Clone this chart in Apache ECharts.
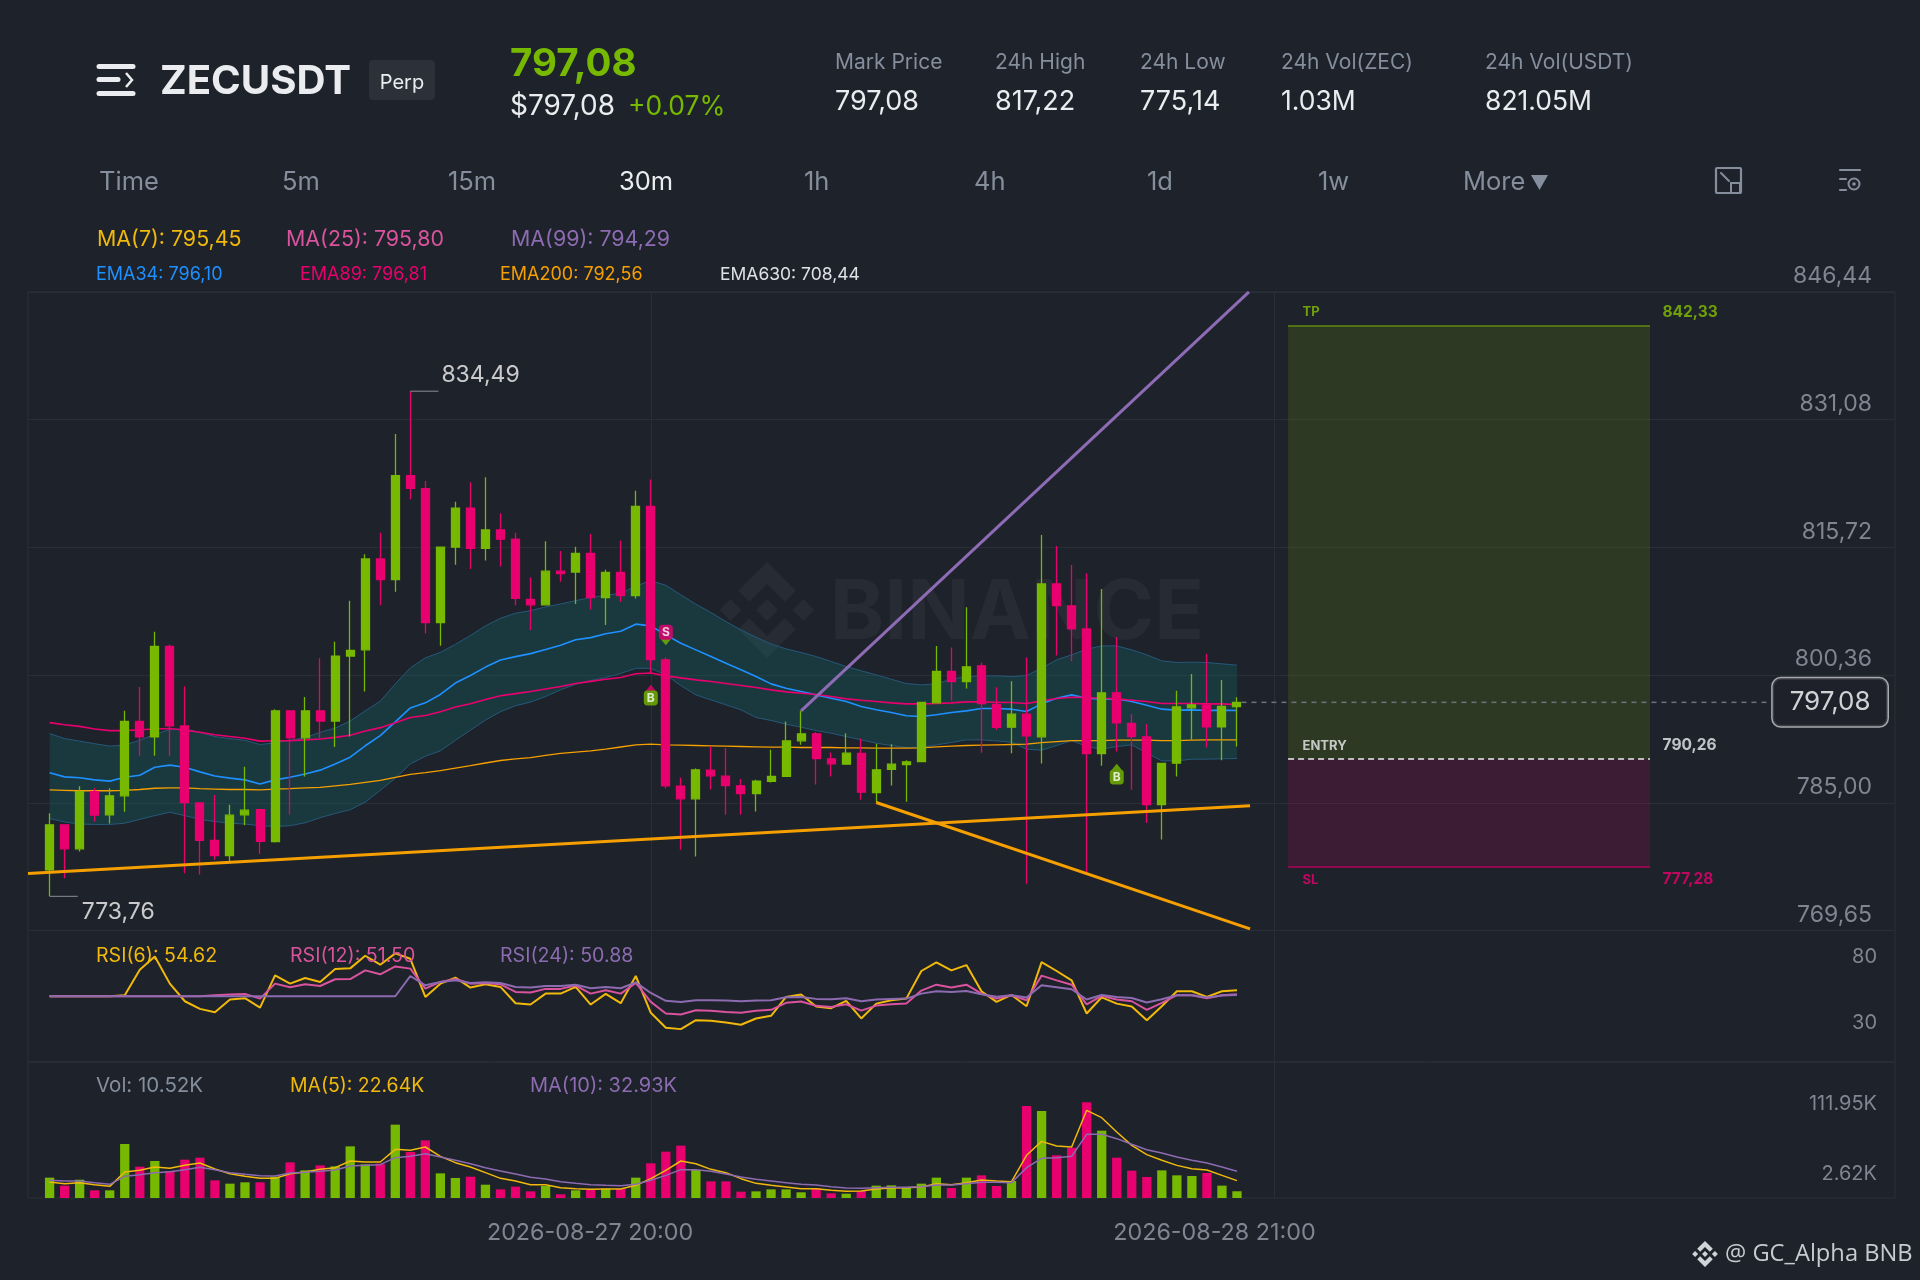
<!DOCTYPE html>
<html><head><meta charset="utf-8">
<style>html,body{margin:0;padding:0;background:#1e222a}#c{width:1920px;height:1280px}</style>
<script src="https://cdn.jsdelivr.net/npm/echarts@6/dist/echarts.min.js"></script>
</head><body><div id="c"></div>
<script>
const open_=[776.93,782.35,779.47,786.34,783.56,785.84,794.79,792.92,803.80,794.24,784.98,780.48,778.66,783.56,784.17,780.33,796.06,792.82,796.06,794.84,802.64,803.39,814.32,811.84,824.34,822.77,806.68,815.74,820.44,815.59,817.81,816.70,809.46,808.81,812.85,812.75,814.98,809.67,812.70,809.92,820.64,802.19,787.00,785.48,788.93,788.21,787.04,786.12,787.57,788.17,792.45,793.29,790.29,789.65,790.93,786.24,789.01,789.61,789.97,797.02,800.79,799.58,801.47,796.82,794.09,795.66,792.93,811.32,808.68,805.91,790.93,798.22,794.54,792.93,784.80,789.77,796.42,796.78,794.13,796.58];
const close_=[782.35,779.47,786.34,783.51,785.84,794.79,792.92,803.80,794.24,785.03,780.48,778.66,783.51,784.12,780.38,796.06,792.82,796.06,794.84,802.64,803.34,814.32,811.84,824.34,822.82,806.68,815.74,820.44,815.59,817.81,816.70,809.57,808.81,812.85,812.55,814.98,809.67,812.70,809.92,820.64,802.23,787.04,785.48,788.97,788.25,787.08,786.12,787.61,788.17,792.45,793.29,790.33,789.69,790.97,786.28,788.97,789.65,789.93,797.06,800.79,799.58,801.35,796.94,794.06,795.66,793.05,811.32,808.72,805.91,790.93,798.22,794.62,792.97,784.80,789.73,796.54,796.78,794.13,796.58,797.08];
const low_=[773.76,775.92,779.16,782.75,782.50,783.92,790.65,790.65,790.65,776.53,776.38,778.15,777.90,782.30,778.86,780.23,783.61,788.17,792.72,791.71,792.97,798.39,808.76,810.38,821.50,805.37,803.90,813.61,813.11,814.12,813.41,808.76,805.77,808.81,811.59,808.91,808.25,806.38,809.16,809.57,800.61,786.72,779.35,778.55,786.60,783.56,783.56,783.96,787.44,788.17,791.97,787.20,788.17,789.65,785.36,785.04,787.08,785.12,789.97,797.02,797.30,798.74,791.01,793.77,790.97,775.27,789.73,802.71,802.03,776.55,789.45,791.17,786.56,782.56,780.59,788.17,792.57,791.65,790.13,791.77];
const high_=[783.76,782.35,787.00,786.75,786.75,796.06,798.94,805.57,804.05,798.99,784.98,785.94,784.78,789.33,784.22,796.26,796.06,797.73,802.38,804.36,809.31,814.88,817.46,829.35,834.49,823.68,815.74,821.20,823.53,824.13,819.83,817.46,812.09,816.45,815.28,815.79,817.31,813.01,816.55,822.52,823.88,802.51,788.04,789.13,791.77,791.57,787.85,787.77,791.37,794.78,796.06,793.53,791.05,793.37,792.73,792.09,792.05,790.13,797.06,803.87,803.67,808.52,801.87,798.90,799.62,802.47,817.21,815.89,813.60,812.60,810.72,804.95,795.66,794.49,789.73,798.46,800.50,802.91,799.78,797.70];
const ema34=[788.62,788.12,788.02,787.76,787.61,788.07,788.32,789.28,789.53,789.28,788.72,788.22,787.97,787.76,787.26,787.76,788.07,788.47,788.93,789.68,790.49,791.86,793.07,794.74,796.41,797.02,798.03,799.40,800.31,801.32,802.18,802.58,802.94,803.44,803.95,804.61,804.86,805.32,805.62,806.48,806.28,805.19,804.19,803.39,802.59,801.79,800.99,800.18,799.30,798.78,798.38,797.98,797.58,797.18,796.58,796.18,795.86,795.46,795.38,795.58,795.86,796.06,796.34,796.34,796.26,795.98,796.90,797.58,797.98,797.58,797.46,797.50,797.18,796.74,796.26,796.14,796.18,796.10,796.14,796.10];
const ema89=[794.64,794.39,794.19,793.88,793.68,793.68,793.78,793.88,793.93,793.73,793.48,793.18,792.97,792.77,792.42,792.47,792.47,792.57,792.67,792.87,793.12,793.63,794.04,794.64,795.25,795.50,795.96,796.51,796.92,797.42,797.88,798.13,798.39,798.69,798.99,799.35,799.60,799.85,800.06,800.51,800.61,800.26,800.02,799.78,799.58,799.34,799.10,798.86,798.58,798.34,798.18,798.02,797.78,797.50,797.34,797.18,797.02,796.90,796.90,796.94,797.02,797.14,797.14,797.10,797.06,796.94,797.26,797.54,797.70,797.66,797.58,797.50,797.34,797.18,796.94,796.94,796.94,796.90,796.90,796.81];
const ema200=[786.55,786.50,786.45,786.45,786.45,786.50,786.60,786.75,786.80,786.80,786.70,786.65,786.60,786.60,786.55,786.65,786.70,786.80,786.85,787.05,787.21,787.46,787.71,788.07,788.42,788.62,788.88,789.18,789.48,789.79,790.09,790.29,790.44,790.70,790.95,791.10,791.25,791.46,791.71,791.96,792.05,791.97,791.93,791.89,791.85,791.81,791.77,791.73,791.69,791.69,791.65,791.65,791.65,791.61,791.61,791.57,791.57,791.57,791.61,791.73,791.81,791.89,791.93,791.97,792.01,792.05,792.25,792.37,792.49,792.49,792.49,792.53,792.53,792.53,792.49,792.49,792.53,792.57,792.57,792.56];
const bandUpper=[793.33,792.72,792.42,792.11,791.81,791.96,792.52,793.23,793.83,793.88,793.48,792.97,792.72,792.52,792.01,792.21,792.52,792.82,793.48,793.99,794.84,796.06,797.22,799.30,801.22,802.43,803.09,804.05,805.11,806.28,807.19,807.80,808.10,808.55,808.91,809.31,809.67,809.97,810.17,811.08,811.69,811.16,810.00,808.88,807.88,806.79,805.79,804.91,804.11,803.51,803.07,802.59,801.99,801.39,800.87,800.38,799.86,799.34,799.18,799.30,799.86,800.18,800.26,800.26,800.18,800.30,801.19,802.19,802.79,803.47,803.87,803.87,803.39,802.79,802.07,801.87,801.91,801.87,801.71,801.55];
const bandLower=[783.11,782.70,782.45,782.40,782.40,782.55,783.01,783.46,783.87,783.46,783.01,782.75,782.55,782.45,782.25,782.15,782.25,782.60,783.21,783.72,784.17,785.08,786.50,787.96,789.68,790.60,791.25,792.52,793.73,794.95,795.96,796.67,797.12,797.78,798.59,799.25,799.70,800.06,800.56,801.17,801.17,800.38,799.10,797.98,797.38,796.78,796.18,795.26,794.90,794.46,794.09,793.69,793.37,792.97,792.57,792.17,791.89,791.65,791.69,791.97,792.25,792.57,792.57,792.45,792.29,791.45,791.33,791.89,792.49,791.77,791.45,791.77,791.97,790.97,790.05,790.05,790.25,790.25,790.29,790.33];
const rsi6=[50,50,50,50,50,50.8,70.2,80.3,59.6,46.2,40.4,37.9,47.5,48.5,41.4,65.9,59.6,63.9,60.9,70.7,71.2,80.8,74.0,82.6,78.5,49.5,59.6,64.1,56.6,59.1,57.1,44.7,43.7,52.0,52.0,57.1,43.7,51.8,44.7,65.4,37.4,26.0,25.0,31.8,31.3,30.1,28.3,33.1,35.1,49.5,51.3,42.2,40.9,46.5,33.1,44.4,47.0,48.2,69.2,75.8,69.7,73.7,53.8,45.7,51.0,42.4,76.0,69.2,62.1,36.9,49.2,44.4,42.2,31.8,42.4,53.8,53.8,49.5,53.8,54.62];
const rsi12=[50,50,50,50,50,50,50,50,50,50,50,50.8,51.3,51.8,48.2,59.6,56.8,59.1,57.8,62.9,63.1,69.7,66.7,72.7,71.0,55.8,60.9,63.1,59.6,60.1,59.1,53.3,52.8,55.6,55.6,58.1,52.0,54.6,52.0,60.1,45.7,36.9,36.1,39.4,38.9,38.1,37.4,38.9,39.7,45.0,46.0,42.7,41.9,43.9,39.1,42.9,43.9,44.4,54.3,58.8,56.6,58.8,52.0,48.2,50.8,47.0,65.7,62.1,58.8,43.9,50.3,47.5,46.2,39.7,45.0,50.8,50.8,48.5,50.8,51.50];
const rsi24=[50,50,50,50,50,50,50,50,50,50,50,50,50,50,50,50,50,50,50,50,50,50,50,50,65.4,58.3,60.9,62.1,60.1,60.6,60.1,57.1,56.6,57.8,57.8,58.8,56.1,57.1,56.1,60.6,52.5,46.5,45.7,47.0,47.0,46.7,46.2,46.7,47.0,49.2,49.5,48.0,47.7,48.5,46.2,47.5,48.0,48.2,52.0,53.8,53.3,54.0,51.5,49.7,50.8,49.0,58.3,56.8,55.3,47.5,51.0,49.5,48.7,45.2,47.7,50.8,50.8,49.0,50.5,50.88];
const volume=[31.8,19.3,28.6,12.0,12.0,84.4,49.0,57.8,42.2,59.9,63.0,27.6,22.4,24.5,24.5,33.3,55.7,43.2,51.0,49.5,80.7,52.6,53.6,114.6,71.9,90.1,38.5,31.3,33.3,20.8,13.5,17.7,10.4,18.8,5.7,12.0,12.5,14.6,14.6,31.8,54.2,72.4,81.8,43.8,26.0,26.0,9.9,10.4,13.5,13.5,8.9,14.6,7.3,6.8,10.9,19.3,19.8,16.1,22.4,31.8,15.6,31.8,35.4,18.8,26.6,143.8,135.9,66.7,78.6,149.5,105.2,63.0,42.7,32.8,43.2,35.4,34.4,39.1,19.3,10.52];
const volMa5=[25.0,22.4,24.0,20.8,18.2,40.6,43.2,48.4,46.4,51.0,54.7,45.3,38.0,33.9,30.7,30.7,38.0,40.6,44.8,47.4,57.8,56.3,56.3,76.0,74.5,79.7,65.1,55.2,48.4,39.6,30.7,26.6,20.8,20.8,16.1,14.6,13.5,14.1,14.1,19.8,30.2,43.2,57.8,53.6,44.8,39.6,30.2,22.9,19.8,17.2,14.6,14.6,12.0,10.4,10.9,14.1,15.6,16.1,17.2,22.4,20.8,24.0,28.1,26.6,25.5,66.7,88.5,81.3,79.7,137.0,125.5,103.1,82.3,67.7,58.9,51.0,45.8,43.8,35.4,27.1];
const volMa10=[27.6,26.6,26.6,24.0,21.4,33.9,36.5,39.6,41.1,44.3,47.9,44.3,39.6,37.0,34.9,34.4,39.1,40.1,41.7,43.8,50.0,51.0,52.1,63.0,65.1,69.3,64.1,58.9,53.6,47.4,42.2,37.5,32.3,29.7,25.5,22.9,20.8,19.8,19.3,21.4,27.6,35.4,44.3,44.3,41.7,37.5,32.8,29.2,26.6,24.0,21.4,20.3,17.7,15.6,15.1,16.1,16.7,16.7,17.7,20.3,20.3,22.4,24.5,24.5,24.0,47.4,62.0,63.0,65.1,99.5,99.5,92.7,83.9,75.5,70.3,64.1,58.9,54.7,48.4,41.7];

const priceTicks=[846.44,831.08,815.72,800.36,785.00,769.65];
const rsiTicks=[80,30];
const volTicks=[2.62,111.95];
const timeLabels=['2026-08-27 20:00','2026-08-28 21:00'];
const timeLabelAt=[35.96,77.5];
const timeLineAt=[40,81.45];
const xRange=[-1.437,122.78];
const tp=842.33, entry=790.26, sl=777.28, last=797.08, boxX=[82.4,106.48];
const hiIdx=24, hiVal=834.49, loIdx=0, loVal=773.76;
const trendUp=[[-1.437,776.5],[79.87,784.64]];
const trendDown=[[55,785.04],[79.87,769.85]];
const trendPurple=[[50,796.06],[79.8,846.44]];
const signals=[{i:40,v:797.6,t:'B',c:'#76b900',tip:'#e8006f',tipV:798.85,rot:0},{i:41,v:805.5,t:'S',c:'#e8006f',tip:'#76b900',tipV:804.3,rot:180},{i:71,v:788.1,t:'B',c:'#76b900',tip:'#76b900',tipV:789.35,rot:0}];

const headerTexts=[
 ['ZECUSDT',160,82,'700 40.2px','#eaecef'],['Perp',402,83,'400 20px','#eaecef','center'],
 ['797,08',510,64,'700 38.5px','#76b900'],['$797,08',510,107,'400 28px','#eaecef'],['+0.07%',628,107,'400 26.4px','#76b900'],
 ['Mark Price',835,63,'400 21px','#848e9c'],['797,08',835,102,'400 27px','#eaecef'],
 ['24h High',995,63,'400 21px','#848e9c'],['817,22',995,102,'400 27px','#eaecef'],
 ['24h Low',1140,63,'400 21px','#848e9c'],['775,14',1140,102,'400 27px','#eaecef'],
 ['24h Vol(ZEC)',1281,63,'400 21px','#848e9c'],['1.03M',1281,102,'400 26.5px','#eaecef'],
 ['24h Vol(USDT)',1485,63,'400 21px','#848e9c'],['821.05M',1485,102,'400 26.5px','#eaecef'],
 ['Time',99,182,'400 25.5px','#848e9c'],['5m',282,182,'400 25.5px','#848e9c'],['15m',448,182,'400 25.5px','#848e9c'],['30m',619,182,'400 25.5px','#eaecef'],
 ['1h',804,182,'400 25.5px','#848e9c'],['4h',974,182,'400 25.5px','#848e9c'],['1d',1147,182,'400 25.5px','#848e9c'],['1w',1318,182,'400 25.5px','#848e9c'],['More',1463,182,'400 25.5px','#848e9c'],
 ['MA(7): 795,45',97,240,'400 21.4px','#f0b90b'],['MA(25): 795,80',286,240,'400 21.4px','#d9539e'],['MA(99): 794,29',511,240,'400 21.4px','#8c6bb1'],
 ['EMA34: 796,10',96,275,'400 18px','#1e90ff'],['EMA89: 796,81',300,275,'400 18px','#e8006f'],['EMA200: 792,56',500,275,'400 18px','#f59f00'],['EMA630: 708,44',720,275,'400 17.5px','#dfe1e5'],
 ['RSI(6): 54.62',96,956,'400 19.6px','#f0b90b'],['RSI(12): 51.50',290,956,'400 19.6px','#d9539e'],['RSI(24): 50.88',500,956,'400 19.6px','#8c6bb1'],
 ['Vol: 10.52K',96,1086,'400 20.5px','#848e9c'],['MA(5): 22.64K',290,1086,'400 19.4px','#f0b90b'],['MA(10): 32.93K',530,1086,'400 20px','#8c6bb1']
];

const FONT='Inter, "Noto Sans", sans-serif';
const GREEN='#76b900',PINK='#e8006f',GRID='#2a2e37',GREY='#7f8692',LIME='#84c000';
const fmt=v=>v.toFixed(2).replace('.',',');
const idx=a=>a.map((v,i)=>[i,v]);

function logo(cx,cy,s,color,z){
 const P=(pts)=>({type:'polygon',silent:true,z:z,shape:{points:pts.map(p=>[cx+p[0]*s,cy+p[1]*s])},style:{fill:color}});
 const d=(x,y,r)=>P([[x,y-r],[x+r,y],[x,y+r],[x-r,y]]);
 return [P([[0,-1],[.6,-.4],[.37,-.17],[0,-.54],[-.37,-.17],[-.6,-.4]]),
  P([[0,1],[.6,.4],[.37,.17],[0,.54],[-.37,.17],[-.6,.4]]),d(0,0,.23),d(-.76,0,.23),d(.76,0,.23)];
}
const rect=(x,y,w,h,fill,r)=>({type:'rect',silent:true,shape:{x,y,width:w,height:h,r:r||0},style:{fill}});
const strokeRect=(x,y,w,h,stroke,lw,r)=>({type:'rect',silent:true,shape:{x,y,width:w,height:h,r:r||0},style:{fill:'transparent',stroke,lineWidth:lw}});
const seg=(x1,y1,x2,y2,stroke,lw)=>({type:'line',silent:true,shape:{x1,y1,x2,y2},style:{stroke,lineWidth:lw,lineCap:'round'}});

const graphic=[
 ...logo(767,610,48,'#272b34',0),
 {type:'text',silent:true,z:0,x:830,y:614,style:{text:'BINANCE',font:'700 82px '+FONT,fill:'#272b34',textVerticalAlign:'middle'}},
 seg(99,66.5,133,66.5,'#eaecef',5),seg(99,79.5,118,79.5,'#eaecef',5),seg(99,93.5,133,93.5,'#eaecef',5),
 {type:'polyline',silent:true,shape:{points:[[126,73],[132,80],[126,87]]},style:{stroke:'#eaecef',lineWidth:2.5,fill:'none'}},
 rect(369,60,66,40,'#2b3039',4),
 {type:'polygon',silent:true,shape:{points:[[1531,175],[1548,175],[1539.5,190]]},style:{fill:'#848e9c'}},
 strokeRect(1716,168,25,25,'#848e9c',2.2,1),strokeRect(1731,183,9,10,'#848e9c',2),seg(1721,173,1729,181,'#848e9c',2),
 seg(1840,170,1860,170,'#848e9c',2.2),seg(1840,179,1846,179,'#848e9c',2.2),seg(1840,190,1846,190,'#848e9c',2.2),
 {type:'circle',silent:true,shape:{cx:1854,cy:184,r:5.5},style:{fill:'transparent',stroke:'#848e9c',lineWidth:2}},{type:'circle',silent:true,shape:{cx:1854,cy:184,r:1.8},style:{fill:'#848e9c'}},
 ...logo(1705,1254,13,'#d0d3d8',50),
 {type:'text',silent:true,z:50,x:1725,y:1254,style:{text:'@ GC_Alpha BNB',font:'400 23.7px "Open Sans", sans-serif',fill:'#c8ccd1',textVerticalAlign:'middle'}},
 ...headerTexts.map(t=>({type:'text',silent:true,z:40,x:t[1],y:t[2],style:{text:t[0],font:t[3]+' '+FONT,fill:t[4],textAlign:t[5]||'left',textVerticalAlign:'middle'}}))
];

const xa=(gridIndex,extra)=>Object.assign({type:'value',gridIndex,min:xRange[0],max:xRange[1],axisLine:{show:false},
 axisTick:{show:false,customValues:timeLineAt},axisLabel:{show:false},
 splitLine:{show:true,customValues:timeLineAt,lineStyle:{color:GRID,width:1}}},extra||{});
const lineS=(name,data,color,width,z,xi,extra)=>Object.assign({name,type:'line',data,xAxisIndex:xi||0,yAxisIndex:xi||0,symbol:'none',silent:true,animation:false,z:z,lineStyle:{color,width}},extra||{});

const lbl=(x,y,text,color,size,weight,off,pos,more)=>({value:[x,y],label:Object.assign({show:true,formatter:text,color,fontSize:size,fontWeight:weight,fontFamily:FONT,position:pos||'right',distance:0,offset:off||[0,0]},more||{})});

const annotations=[
 lbl(boxX[0]+0.93,tp,'TP',LIME,13,700,[0,-14]), lbl(107.28,tp,'842,33',LIME,15.5,700,[0,-14]),
 lbl(boxX[0]+0.93,entry,'ENTRY','#eaecef',13,700,[0,-13]), lbl(107.28,entry,'790,26','#eaecef',15.5,700,[0,-14]),
 lbl(boxX[0]+0.93,sl,'SL',PINK,13,700,[0,13]), lbl(107.28,sl,'777,28',PINK,15.5,700,[0,12]),
 lbl(hiIdx+2.1,hiVal,'834,49','#f5f5f5',23,400,[-1,-16]), lbl(loIdx+2.1,loVal,'773,76','#f5f5f5',23,400,[0,16]),
 lbl(118.46,last,'797,08','#ffffff',26,400,[0,0],'inside',{backgroundColor:'#1e222a',borderColor:'#c9ccd1',borderWidth:1.5,borderRadius:8,padding:[11,17,11,17]})
];
const tickFmt=(v)=>{const e=volTicks.find(t=>Math.abs(t-v)<1e-6);return e+'K';};

const bandRows=bandUpper.map((v,i)=>[i,v,bandLower[i]]);
const renderBand=(params,api)=>{
 if(params.dataIndex!==0) return null;
 const pts=bandUpper.map((v,i)=>api.coord([i,v])).concat(bandLower.map((v,i)=>api.coord([i,v])).reverse());
 return {type:'polygon',shape:{points:pts},style:{fill:'rgba(20,112,112,0.3)'},silent:true};
};

const option={
 backgroundColor:'#1e222a',animation:false,
 graphic:{elements:graphic},
 grid:[
  {left:28,right:25,top:291.8,height:638.7,show:true,borderColor:GRID,backgroundColor:'transparent',borderWidth:1},
  {left:28,right:25,top:930.5,height:131.5,show:true,borderColor:GRID,backgroundColor:'transparent',borderWidth:1},
  {left:28,right:25,top:1062,height:136,show:true,borderColor:GRID,backgroundColor:'transparent',borderWidth:1}
 ],
 xAxis:[xa(0),xa(1),xa(2,{axisLabel:{show:true,customValues:timeLabelAt,margin:23,color:GREY,fontSize:23.3,fontFamily:FONT,formatter:(v)=>timeLabels[timeLabelAt.indexOf(v)]}})],
 yAxis:[
  {type:'value',gridIndex:0,position:'right',min:priceTicks[5],max:priceTicks[0],axisLine:{show:false},axisTick:{show:false,customValues:priceTicks},
   splitLine:{show:true,customValues:priceTicks,lineStyle:{color:GRID}},
   axisLabel:{inside:true,customValues:priceTicks,margin:23,color:GREY,fontSize:23,fontFamily:FONT,verticalAlign:'bottom',padding:[0,0,4,0],formatter:fmt}},
  {type:'value',gridIndex:1,position:'right',min:0,max:100,axisLine:{show:false},axisTick:{show:false},splitLine:{show:false},
   axisLabel:{inside:true,customValues:rsiTicks,margin:18,color:GREY,fontSize:20,fontFamily:FONT}},
  {type:'value',gridIndex:2,position:'right',min:0,max:212.5,axisLine:{show:false},axisTick:{show:false},splitLine:{show:false},
   axisLabel:{inside:true,customValues:volTicks,margin:18,color:GREY,fontSize:20,fontFamily:FONT,verticalAlign:'bottom',padding:[0,0,12,0],formatter:tickFmt}}
 ],
 series:[
  {name:'box',type:'line',data:[],xAxisIndex:0,yAxisIndex:0,z:1,silent:true,
   markArea:{silent:true,z:1,data:[[{coord:[boxX[0],tp],itemStyle:{color:'rgba(125,170,0,0.17)'}},{coord:[boxX[1],entry]}],[{coord:[boxX[0],entry],itemStyle:{color:'rgba(232,0,111,0.15)'}},{coord:[boxX[1],sl]}]]}},
  {name:'bandFill',type:'custom',xAxisIndex:0,yAxisIndex:0,z:2,silent:true,data:bandRows,encode:{x:0,y:[1,2]},renderItem:renderBand},
  lineS('bandUpper',idx(bandUpper),'#25587a',1,2),
  lineS('bandLower',idx(bandLower),'#25587a',1,2),
  lineS('EMA200',idx(ema200),'#f59f00',1.3,3),
  lineS('EMA34',idx(ema34),'#1e90ff',1.6,3),
  lineS('EMA89',idx(ema89),PINK,1.6,3),
  {name:'candles',type:'candlestick',xAxisIndex:0,yAxisIndex:0,z:5,silent:true,barWidth:8.5,
   data:open_.map((o,i)=>[i,o,close_[i],low_[i],high_[i]]),
   itemStyle:{color:GREEN,color0:PINK,borderColor:GREEN,borderColor0:PINK,borderWidth:1.3}},
  lineS('trendUp',trendUp,'#f59f00',3,6),
  lineS('trendDown',trendDown,'#f59f00',3,6),
  lineS('trendPurple',trendPurple,'#8e6bb5',3,6),
  lineS('tpLine',[[boxX[0],tp],[boxX[1],tp]],'#5f8a12',1.5,6),
  lineS('entryLine',[[boxX[0],entry],[boxX[1],entry]],'#eaecef',1.5,6,0,{lineStyle:{color:'#eaecef',width:1.5,type:[6,4]}}),
  lineS('slLine',[[boxX[0],sl],[boxX[1],sl]],'#b3005a',1.5,6),
  lineS('lastLine',[[79.3,last],[114.25,last]],'#6d737d',1.5,6,0,{lineStyle:{color:'#6d737d',width:1.5,type:[5,5]}}),
  lineS('hiLead',[[hiIdx,hiVal],[hiIdx+1.87,hiVal]],'#8a8f98',1,6),
  lineS('loLead',[[loIdx,loVal],[loIdx+1.87,loVal]],'#8a8f98',1,6),
  {name:'tips',type:'scatter',xAxisIndex:0,yAxisIndex:0,z:7,silent:true,symbol:'triangle',symbolSize:[10,6],
   data:signals.map(s=>({value:[s.i,s.tipV],symbolRotate:s.rot,itemStyle:{color:s.tip}}))},
  {name:'signals',type:'scatter',xAxisIndex:0,yAxisIndex:0,z:8,silent:true,symbol:'roundRect',symbolSize:[14,15],
   data:signals.map(s=>({value:[s.i,s.v],itemStyle:{color:s.c},label:{show:true,position:'inside',formatter:s.t,color:'#fff',fontSize:12,fontWeight:700,fontFamily:FONT}}))},
  {name:'labels',type:'scatter',xAxisIndex:0,yAxisIndex:0,z:9,silent:true,symbolSize:1,itemStyle:{color:'transparent'},data:annotations},
  lineS('RSI24',idx(rsi24),'#8c6bb1',2,5,1),
  lineS('RSI12',idx(rsi12),'#d9539e',2,4,1),
  lineS('RSI6',idx(rsi6),'#f0b90b',2,3,1),
  {name:'Vol',type:'bar',xAxisIndex:2,yAxisIndex:2,z:3,silent:true,barWidth:9.3,
   data:volume.map((v,i)=>({value:[i,v],itemStyle:{color:close_[i]>=open_[i]?GREEN:PINK}}))},
  lineS('VolMA5',idx(volMa5),'#f0b90b',1.5,4,2),
  lineS('VolMA10',idx(volMa10),'#8c6bb1',1.5,5,2)
 ]
};
const chart=echarts.init(document.getElementById('c'),null,{width:1920,height:1280});
chart.setOption(option);
</script></body></html>
